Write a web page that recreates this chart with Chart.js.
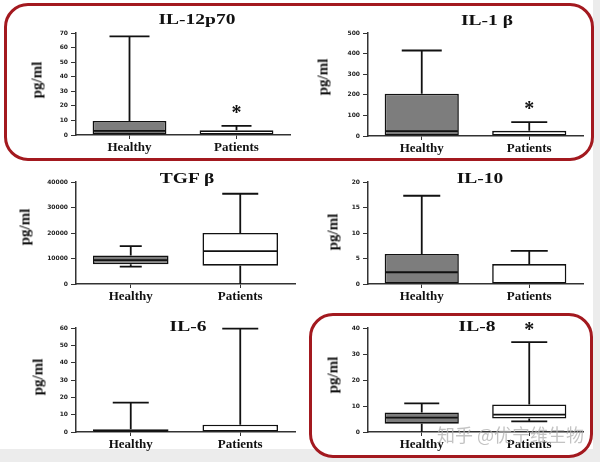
<!DOCTYPE html>
<html>
<head>
<meta charset="utf-8">
<script src="https://cdn.jsdelivr.net/npm/chart.js@4.4.1/dist/chart.umd.min.js"></script>
<style>
  body { margin: 0; background: #ececec; width: 600px; height: 462px; overflow: hidden; position: relative; }
  #paper { position: absolute; left: 0; top: 0; width: 593px; height: 449px; background: #fff; }
  .frame { position: absolute; border: 3px solid #a3191f; border-radius: 24px; background: #fff; box-sizing: border-box; }
  .panel { position: absolute; }
  .title, .ylab { position: absolute; font-family: "Liberation Serif", serif; font-weight: bold; color: #111; white-space: nowrap; }
  .title { font-size: 15px; transform: translate(-50%, -50%) scaleX(1.3); }
  .ylab { font-size: 15px; transform: translate(-50%, -50%) rotate(-90deg); }
  #mark { position: absolute; left: 437px; top: 421px; font-family: "Noto Sans CJK SC", sans-serif; font-size: 18px; color: rgba(175,175,175,0.75); white-space: nowrap; }
</style>
</head>
<body>
<div id="paper"></div>
<div class="frame" style="left:4px; top:3px; width:590px; height:158px;"></div>
<div class="frame" style="left:309px; top:313px; width:284px; height:145px;"></div>
<div id="panels"></div>
<div id="mark">知乎 @优宁维生物</div>
<script>
// data
const categories = ['Healthy', 'Patients'];
const panelTitles = ['IL-12p70', 'IL-1 β', 'TGF β', 'IL-10', 'IL-6', 'IL-8'];
const yMaxima = [70, 500, 40000, 20, 60, 40];
const ySteps = [10, 100, 10000, 5, 10, 10];
// each row: [Healthy, Patients]
const whiskerLow  = [[0, 0], [0, 0], [6800, 0], [0, 0], [0, 0], [0, 4.1]];
const boxLow      = [[0.3, 0], [0, 0], [7700, 7200], [0, 0], [0, 0], [3.2, 5.2]];
const medians     = [[2.8, 0], [24, 0], [9400, 12900], [2.3, 0], [0.6, 0], [5.5, 6.7]];
const boxHigh     = [[9.6, 3.2], [205, 25], [11200, 20000], [5.9, 3.9], [1.6, 4.2], [7.5, 10.6]];
const whiskerHigh = [[67.7, 6.2], [415, 67], [14850, 35400], [17.3, 6.5], [17, 59.6], [11, 34.6]];
const stars       = [[null, 17], [null, 146], [null, null], [null, null], [null, null], [null, 40.5]];

// layout: y axis x, top px, zero px, x axis end
const axisX = [76, 368, 76, 368, 76, 368];
const topY = [33, 33, 182, 182, 328, 328];
const bottomY = [135, 136, 284, 284, 432, 432];
const endX = [290, 583, 295, 583, 295, 583];
const titlePos = [[197, 19], [487, 20], [187, 178], [480, 178], [188, 326], [477, 326]];
const ylabPos = [[37, 80], [323, 77], [25, 227], [333, 232], [38, 377], [333, 375]];
const capWidths = [[40, 30], [40, 36], [22, 36], [37, 37], [36, 36], [35, 36]];

const boxFill = ['#7d7d7d', '#ffffff'];
const LEFT = 50, PADTOP = 12, XH = 28, PADR = 4;

const holder = document.getElementById('panels');

const boxPlugin = {
    id: 'boxExtras',
    afterDatasetsDraw(chart) {
        const p = chart.options.plugins.boxExtras.panel;
        const ctx = chart.ctx;
        const xs = chart.scales.x, ys = chart.scales.y;
        const meta = chart.getDatasetMeta(0);
        ctx.save();
        ctx.strokeStyle = '#111';
        ctx.lineWidth = 1.8;
        categories.forEach((c, i) => {
            const cx = xs.getPixelForValue(i);
            const bw = meta.data[i].width;
            const cap = capWidths[p][i] / 2;
            // median (skip when it sits on the box edge)
            if (medians[p][i] > boxLow[p][i]) {
                const my = ys.getPixelForValue(medians[p][i]);
                ctx.beginPath();
                ctx.moveTo(cx - bw / 2 + 1, my);
                ctx.lineTo(cx + bw / 2 - 1, my);
                ctx.stroke();
            }
            // upper whisker
            const hy = ys.getPixelForValue(boxHigh[p][i]);
            const wy = ys.getPixelForValue(whiskerHigh[p][i]);
            ctx.beginPath();
            ctx.moveTo(cx, hy);
            ctx.lineTo(cx, wy);
            ctx.moveTo(cx - cap, wy);
            ctx.lineTo(cx + cap, wy);
            ctx.stroke();
            // lower whisker
            if (whiskerLow[p][i] < boxLow[p][i]) {
                const ly = ys.getPixelForValue(boxLow[p][i]);
                const wl = ys.getPixelForValue(whiskerLow[p][i]);
                ctx.beginPath();
                ctx.moveTo(cx, ly);
                ctx.lineTo(cx, wl);
                if (whiskerLow[p][i] > 0) {
                    ctx.moveTo(cx - cap, wl);
                    ctx.lineTo(cx + cap, wl);
                }
                ctx.stroke();
            }
            // significance star
            if (stars[p][i] !== null) {
                ctx.fillStyle = '#111';
                ctx.font = 'bold 20px "Liberation Serif", serif';
                ctx.textAlign = 'center';
                ctx.textBaseline = 'middle';
                ctx.fillText('*', cx, ys.getPixelForValue(stars[p][i]) + 4);
            }
        });
        ctx.restore();
    }
};

panelTitles.forEach((title, p) => {
    const w = endX[p] - axisX[p] + LEFT + PADR;
    const h = bottomY[p] - topY[p] + PADTOP + XH;
    const wrap = document.createElement('div');
    wrap.className = 'panel';
    wrap.style.left = (axisX[p] - LEFT) + 'px';
    wrap.style.top = (topY[p] - PADTOP) + 'px';
    wrap.style.width = w + 'px';
    wrap.style.height = h + 'px';
    const canvas = document.createElement('canvas');
    wrap.appendChild(canvas);
    holder.appendChild(wrap);

    const t = document.createElement('div');
    t.className = 'title';
    t.textContent = title;
    t.style.left = titlePos[p][0] + 'px';
    t.style.top = titlePos[p][1] + 'px';
    holder.appendChild(t);

    const yl = document.createElement('div');
    yl.className = 'ylab';
    yl.textContent = 'pg/ml';
    yl.style.left = ylabPos[p][0] + 'px';
    yl.style.top = ylabPos[p][1] + 'px';
    holder.appendChild(yl);

    new Chart(canvas, {
        type: 'bar',
        data: {
            labels: categories,
            datasets: [{
                data: categories.map((c, i) => [boxLow[p][i], boxHigh[p][i]]),
                backgroundColor: boxFill,
                borderColor: '#111',
                borderWidth: 1.6,
                borderSkipped: false,
                barPercentage: 0.69,
                categoryPercentage: 1
            }]
        },
        options: {
            responsive: true,
            maintainAspectRatio: false,
            animation: false,
            layout: { padding: { top: PADTOP, right: PADR, left: 0, bottom: 0 } },
            plugins: {
                legend: { display: false },
                tooltip: { enabled: false },
                boxExtras: { panel: p }
            },
            scales: {
                x: {
                    afterFit: s => { s.height = XH; },
                    grid: { offset: false, drawOnChartArea: false, drawTicks: true, tickLength: 4, color: '#333' },
                    border: { color: '#333', width: 1.5 },
                    ticks: {
                        color: '#111',
                        padding: 1,
                        font: { family: '"Liberation Serif", serif', size: 13, weight: 'bold' }
                    }
                },
                y: {
                    min: 0,
                    max: yMaxima[p],
                    afterFit: s => { s.width = LEFT; },
                    grid: { drawOnChartArea: false, drawTicks: true, tickLength: 5, color: '#333' },
                    border: { color: '#333', width: 1.5 },
                    ticks: {
                        stepSize: ySteps[p],
                        color: '#222',
                        padding: 3,
                        callback: v => String(v),
                        font: { family: '"DejaVu Sans", sans-serif', size: 6, weight: 'bold' }
                    }
                }
            }
        },
        plugins: [boxPlugin]
    });
});
</script>
</body>
</html>
